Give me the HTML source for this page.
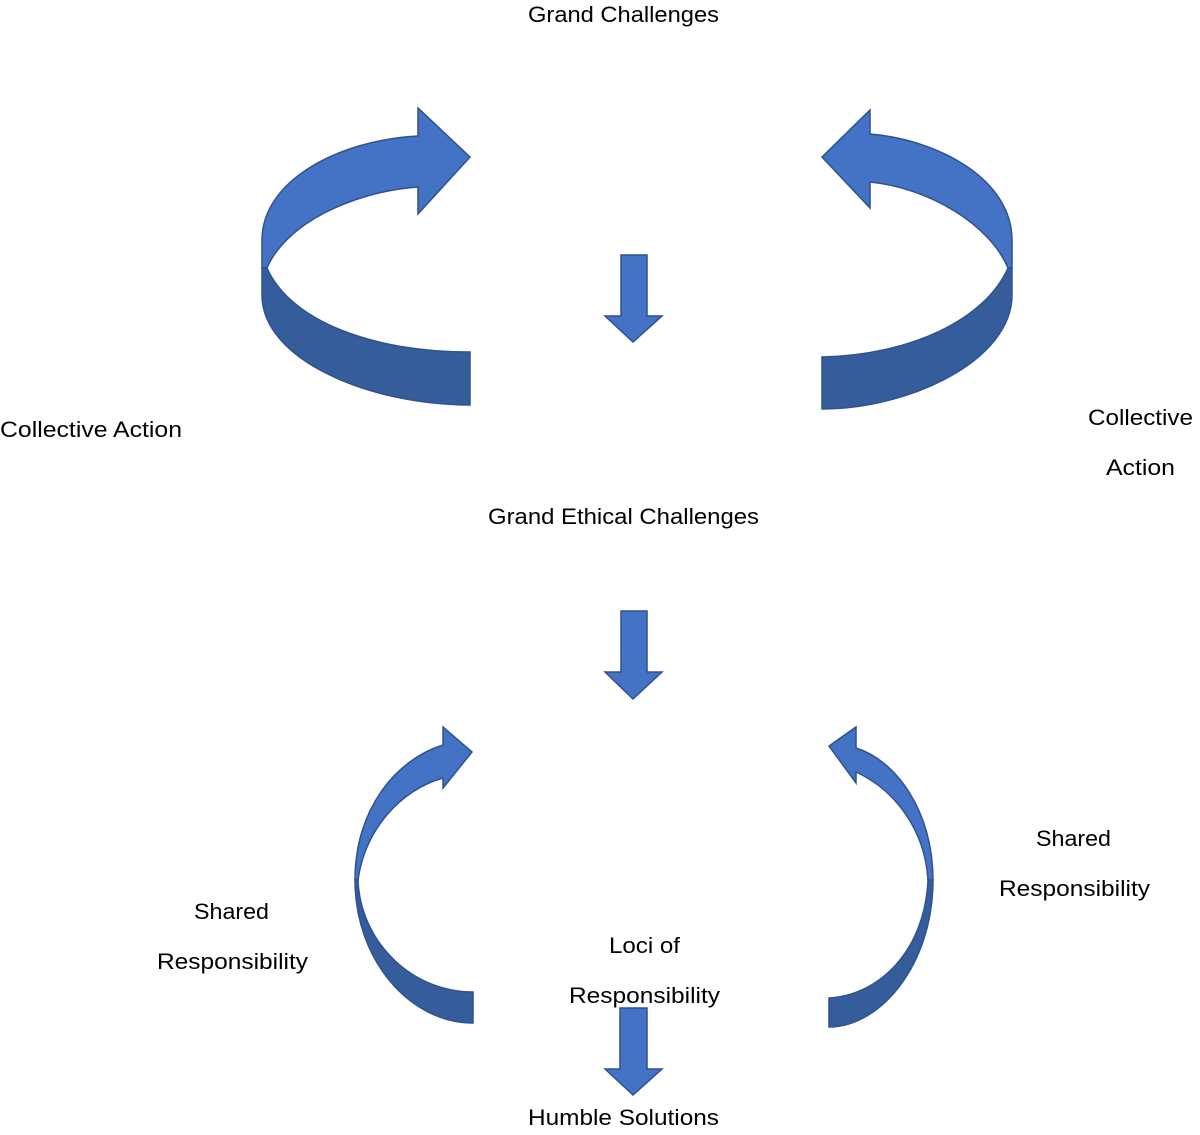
<!DOCTYPE html>
<html><head><meta charset="utf-8"><style>
html,body{margin:0;padding:0;background:#fff;}
svg{display:block;}
text{font-family:"Liberation Sans",sans-serif;font-size:22px;fill:#000;}
</style></head><body>
<svg width="1200" height="1135" viewBox="0 0 1200 1135" xmlns="http://www.w3.org/2000/svg">
<g stroke="#2F528F" stroke-width="1.5" stroke-linejoin="miter">
<!-- top-left -->
<path fill="#4472C4" d="M262,268 L262,240 C262,180 340,140 418,136 L418,108 L470,157 L418,214 L418,187 C350,192 285,225 267,268 Z"/>
<path fill="#355C9B" d="M262,268 L262,295 C262,360 370,405 470,405 L470,352 C370,352 290,320 267,268 Z"/>
<!-- top-right -->
<path fill="#4472C4" d="M1008,268 L1012,268 L1012,240 C1012,180 940,140 870,134 L870,110 L822,157 L870,208 L870,182 C930,188 990,225 1008,268 Z"/>
<path fill="#355C9B" d="M1008,268 L1012,268 L1012,295 C1012,360 910,409 822,409 L822,357 C910,355 985,320 1008,268 Z"/>
<!-- bottom-left -->
<path fill="#4472C4" d="M355,880 C355,810 395,760 443,745 L443,727 L472,752 L443,788 L443,778 C400,790 365,830 358,880 Z"/>
<path fill="#355C9B" d="M358,880 L355,880 C355,960 410,1023 473,1023 L473,992 C410,992 360,940 358,880 Z"/>
<!-- bottom-right -->
<path fill="#4472C4" d="M933,880 C933,810 895,760 856,748 L856,727 L829,746 L856,783 L856,772 C895,790 925,830 928,880 Z"/>
<path fill="#355C9B" d="M928,880 L933,880 C933,965 880,1027 829,1027 L829,998 C880,995 925,950 928,880 Z"/>
<!-- down arrows -->
<path fill="#4472C4" d="M621,255 L647,255 L647,316 L662,316 L633,342 L605,316 L621,316 Z"/>
<path fill="#4472C4" d="M621,611 L647,611 L647,672 L662,672 L633,699 L605,672 L621,672 Z"/>
<path fill="#4472C4" d="M620,1008 L647,1008 L647,1069 L662,1069 L633,1095 L605,1069 L620,1069 Z"/>
</g>
<text x="528" y="22" textLength="191" lengthAdjust="spacingAndGlyphs">Grand Challenges</text>
<text x="0" y="437" textLength="182" lengthAdjust="spacingAndGlyphs">Collective Action</text>
<text x="1088" y="425" textLength="105" lengthAdjust="spacingAndGlyphs">Collective</text>
<text x="1106" y="475" textLength="69" lengthAdjust="spacingAndGlyphs">Action</text>
<text x="488" y="524" textLength="271" lengthAdjust="spacingAndGlyphs">Grand Ethical Challenges</text>
<text x="194" y="919" textLength="75" lengthAdjust="spacingAndGlyphs">Shared</text>
<text x="157" y="969" textLength="151" lengthAdjust="spacingAndGlyphs">Responsibility</text>
<text x="1036" y="846" textLength="75" lengthAdjust="spacingAndGlyphs">Shared</text>
<text x="999" y="896" textLength="151" lengthAdjust="spacingAndGlyphs">Responsibility</text>
<text x="609" y="953" textLength="71" lengthAdjust="spacingAndGlyphs">Loci of</text>
<text x="569" y="1003" textLength="151" lengthAdjust="spacingAndGlyphs">Responsibility</text>
<text x="528" y="1125" textLength="191" lengthAdjust="spacingAndGlyphs">Humble Solutions</text>
</svg>
</body></html>
